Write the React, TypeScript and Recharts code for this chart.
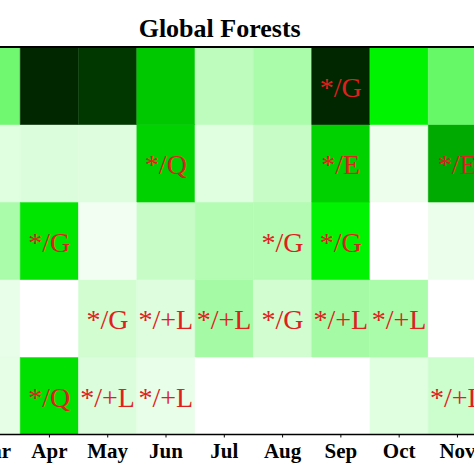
import React from 'react';
import { BarChart, Bar, XAxis, YAxis, Cell, LabelList, ReferenceLine } from 'recharts';

const months = ['Mar', 'Apr', 'May', 'Jun', 'Jul', 'Aug', 'Sep', 'Oct', 'Nov'];

// intensity per cell (0 = white, 0.5 = bright green, 1 = darkest green), top row first
const row1 = [0.28, 0.98, 0.94, 0.6, 0.127, 0.167, 0.978, 0.5, 0.3];
const row2 = [0.06, 0.07, 0.065, 0.577, 0.06, 0.11, 0.577, 0.035, 0.671];
const row3 = [0.167, 0.53, 0.025, 0.11, 0.147, 0.147, 0.5, 0, 0.04];
const row4 = [0.045, 0, 0.09, 0.065, 0.176, 0.09, 0.176, 0.167, 0];
const row5 = [0.05, 0.542, 0.07, 0.045, 0, 0, 0, 0.06, 0.1];

const lab1 = ['', '', '', '', '', '', '*/G', '', ''];
const lab2 = ['', '', '', '*/Q', '', '', '*/E', '', '*/E'];
const lab3 = ['', '*/G', '', '', '', '*/G', '*/G', '', ''];
const lab4 = ['', '', '*/G', '*/+L', '*/+L', '*/G', '*/+L', '*/+L', ''];
const lab5 = ['', '*/Q', '*/+L', '*/+L', '', '', '', '', '*/+L'];

const rows = [row1, row2, row3, row4, row5];
const labels = [lab1, lab2, lab3, lab4, lab5];

function greenScale(v: number): string {
  if (v <= 0.5) {
    const t = v / 0.5;
    const rb = Math.round(255 * (1 - t));
    const g = Math.round(255 - 12 * t);
    return `rgb(${rb},${g},${rb})`;
  }
  const t = (v - 0.5) / 0.5;
  const g = Math.round(243 - (243 - 30) * t);
  return `rgb(0,${g},0)`;
}

const data = months.map((m, i) => {
  const d: Record<string, string | number> = { month: m };
  rows.forEach((r, k) => {
    d[`r${k + 1}`] = 1;
    d[`l${k + 1}`] = labels[k][i];
  });
  return d;
});

const renderLabel = (props: any) => {
  const { x, y, width, height, value } = props;
  if (!value) return null;
  return (
    <text
      x={Number(x) + Number(width) / 2}
      y={Number(y) + Number(height) / 2 + 11}
      textAnchor="middle"
      fill="#e0201c"
      fontFamily="'Liberation Serif', 'Times New Roman', serif"
      fontSize={28}
    >
      {value}
    </text>
  );
};

const order = [5, 4, 3, 2, 1];

export default function App() {
  return (
    <div
      style={{
        position: 'fixed',
        left: 0,
        top: 0,
        width: 474,
        height: 474,
        overflow: 'hidden',
        background: '#fff',
      }}
    >
      <div style={{ position: 'absolute', left: -37.6, top: 0 }}>
        <BarChart
          width={524.6}
          height={474.5}
          data={data}
          margin={{ top: 47, right: 0, bottom: 0, left: 0 }}
          barCategoryGap={0}
          barGap={0}
        >
          <YAxis hide type="number" domain={[0, 5]} />
          {order.map((k) => (
            <Bar key={k} dataKey={`r${k}`} stackId="a" isAnimationActive={false}>
              {rows[k - 1].map((v, i) => (
                <Cell key={i} fill={greenScale(v)} stroke={greenScale(v)} strokeWidth={0.6} />
              ))}
              <LabelList dataKey={`l${k}`} content={renderLabel} />
            </Bar>
          ))}
          <ReferenceLine y={5} stroke="#000" strokeWidth={2} />
          <XAxis
            dataKey="month"
            interval={0}
            height={40}
            tickSize={3}
            tickMargin={6}
            axisLine={{ stroke: '#000', strokeWidth: 1.5 }}
            tickLine={{ stroke: '#000' }}
            tick={{
              fill: '#000',
              fontSize: 21,
              fontWeight: 'bold',
              fontFamily: "'Liberation Serif', 'Times New Roman', serif",
            }}
          />
        </BarChart>
      </div>
      <svg
        width={474}
        height={46}
        style={{ position: 'absolute', left: 0, top: 0 }}
      >
        <text
          x={219.7}
          y={36.7}
          textAnchor="middle"
          fill="#000"
          fontFamily="'Liberation Serif', 'Times New Roman', serif"
          fontWeight="bold"
          fontSize={26}
        >
          Global Forests
        </text>
      </svg>
    </div>
  );
}
